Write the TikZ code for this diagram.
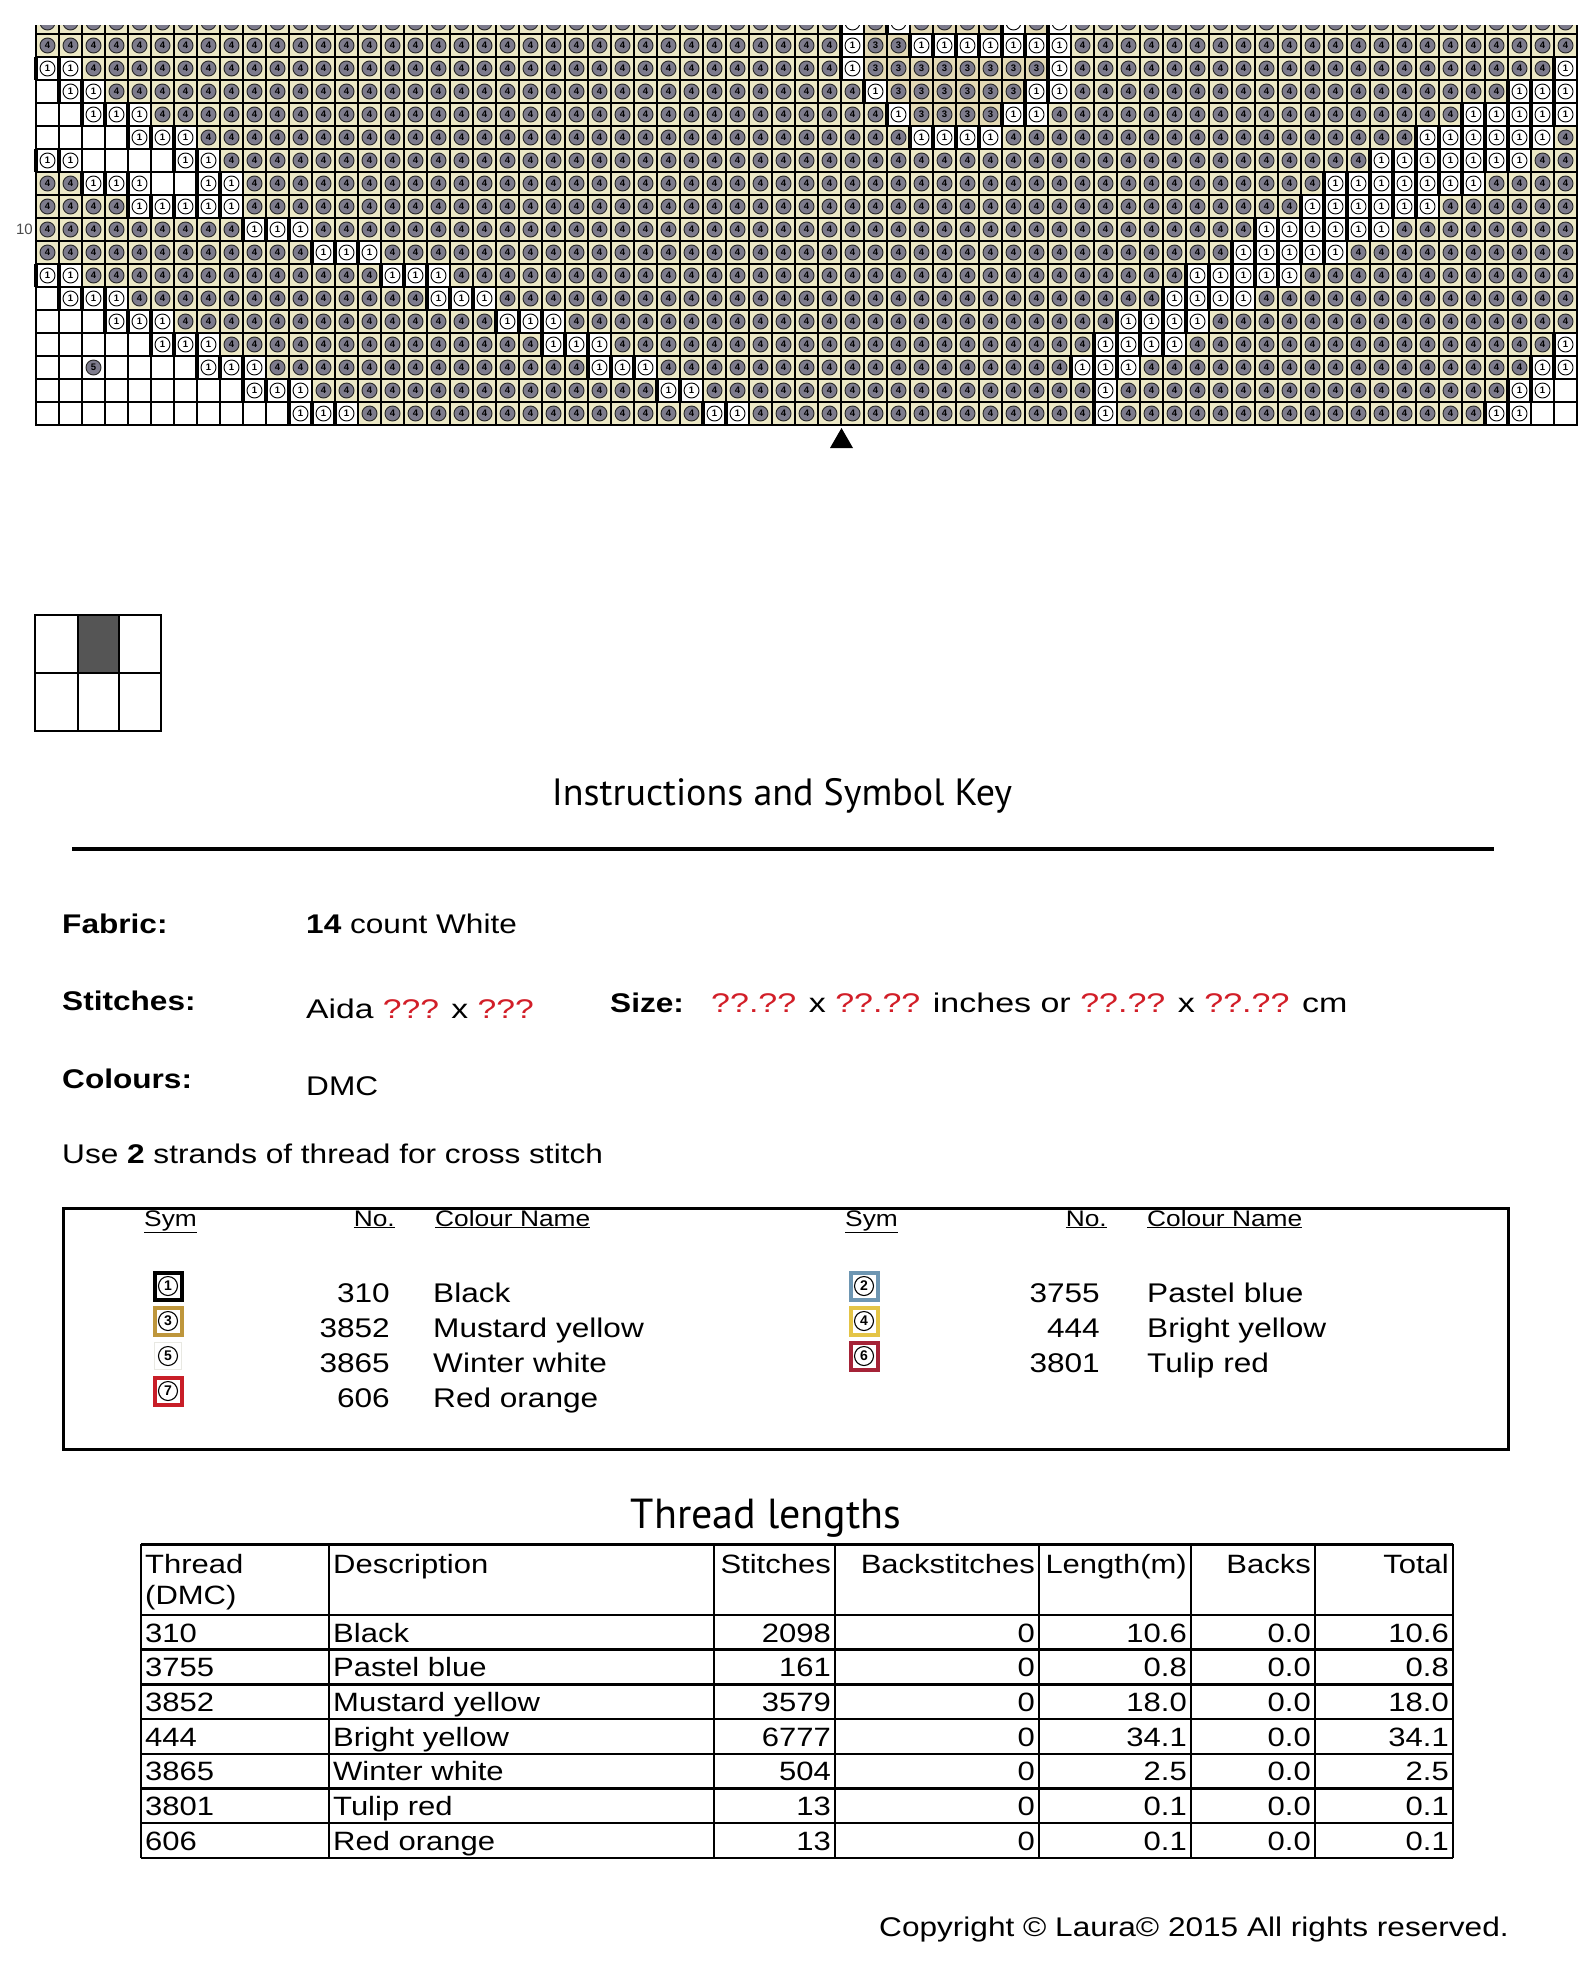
\documentclass[tikz,border=0pt]{standalone}
\usepackage{graphicx}
\usepackage{fontspec}
\setmainfont[FakeStretch=1.17]{Liberation Sans}
\newfontfamily\symfont{Liberation Sans}
\newfontfamily\titlefont{PT Sans}
\definecolor{bgfour}{RGB}{236,232,198}
\definecolor{bgthree}{RGB}{228,218,182}
\definecolor{symgray}{RGB}{125,123,140}
\definecolor{qred}{RGB}{210,30,40}
\definecolor{darkcell}{RGB}{85,85,85}
\definecolor{cblack}{RGB}{0,0,0}
\definecolor{cblue}{RGB}{110,150,178}
\definecolor{cmustard}{RGB}{190,150,60}
\definecolor{cyellow}{RGB}{228,196,70}
\definecolor{cwhite}{RGB}{232,232,226}
\definecolor{ctulip}{RGB}{165,35,55}
\definecolor{corange}{RGB}{200,30,40}
\newcount\cellcol
\newcount\cellrow
\def\gridrow#1#2{\global\cellrow=#1\relax\global\cellcol=0\relax\parsecell#2\relax}
\def\parsecell#1{\ifx#1\relax\let\cellnext\relax\else\global\advance\cellcol by 1\relax\def\curtype{#1}\let\cellnext\docell\fi\cellnext}
\def\docell{\csname cellkind\curtype\endcsname\parsecell}
\expandafter\def\csname cellkind4\endcsname{%
  \fill[bgfour] ({13+23*\the\cellcol},{-12+23*\the\cellrow}) rectangle +(23,23);
  \node[symdark] (c\the\cellrow-\the\cellcol) at ({24.5+23*\the\cellcol},{-0.5+23*\the\cellrow}) {4};}
\expandafter\def\csname cellkind3\endcsname{%
  \fill[bgthree] ({13+23*\the\cellcol},{-12+23*\the\cellrow}) rectangle +(23,23);
  \node[symdark] (c\the\cellrow-\the\cellcol) at ({24.5+23*\the\cellcol},{-0.5+23*\the\cellrow}) {3};}
\expandafter\def\csname cellkind1\endcsname{%
  \node[symlight] (c\the\cellrow-\the\cellcol) at ({24.5+23*\the\cellcol},{-0.5+23*\the\cellrow}) {1};
  \draw[line width=3.5pt] ({13+23*\the\cellcol},{-12+23*\the\cellrow}) -- +(0,23);}
\expandafter\def\csname cellkind5\endcsname{%
  \node[symdark] (c\the\cellrow-\the\cellcol) at ({24.5+23*\the\cellcol},{-0.5+23*\the\cellrow}) {5};}
\expandafter\def\csname cellkind0\endcsname{}
\tikzset{
  gridline/.style={line width=2.3pt, black},
  symdark/.style={circle, fill=symgray, draw=black!85, line width=0.9pt, minimum size=15pt, inner sep=0pt, font=\symfont\bfseries\fontsize{9.5}{9.5}\selectfont},
  symlight/.style={symdark, fill=white, draw=black},
  txt/.style={anchor=base west, inner sep=0pt, font=\fontsize{27}{32}\selectfont},
  txtb/.style={txt, font=\fontsize{27}{32}\selectfont\bfseries},
  hdr/.style={anchor=base west, inner sep=0pt, font=\fontsize{22.5}{26}\selectfont},
  hdre/.style={hdr, anchor=base east},
  tcell/.style={anchor=base west, inner sep=0pt, font=\fontsize{26.5}{30}\selectfont},
  tcelle/.style={tcell, anchor=base east},
  legbox/.style={draw, line width=4pt, minimum size=27pt, inner sep=0pt, fill=white},
  legnum/.style={circle, draw=black, line width=1.1pt, minimum size=19pt, inner sep=0pt, fill=white, font=\symfont\bfseries\fontsize{14}{14}\selectfont},
  tline/.style={line width=2.5pt, black},
}
\begin{document}
\begin{tikzpicture}[x=1pt,y=-1pt]
\useasboundingbox (0,0) rectangle (1588,1968);
\fill[white] (0,0) rectangle (1588,1968);
% ---------- chart ----------
\begin{scope}
\clip (0,25) rectangle (1588,440);
\gridrow{1}{4444444444 4444444444 4444444444 4444413133 3313144444 4444444444 4444444}
\gridrow{2}{4444444444 4444444444 4444444444 4444413311 1111144444 4444444444 4444444}
\gridrow{3}{1144444444 4444444444 4444444444 4444413333 3333144444 4444444444 4444441}
\gridrow{4}{0114444444 4444444444 4444444444 4444441333 3331144444 4444444444 4444111}
\gridrow{5}{0011144444 4444444444 4444444444 4444444133 3311444444 4444444444 4411111}
\gridrow{6}{0000111444 4444444444 4444444444 4444444411 1144444444 4444444444 1111114}
\gridrow{7}{1100001144 4444444444 4444444444 4444444444 4444444444 4444444411 1111144}
\gridrow{8}{4411100114 4444444444 4444444444 4444444444 4444444444 4444441111 1114444}
\gridrow{9}{4444111114 4444444444 4444444444 4444444444 4444444444 4444411111 1444444}
\gridrow{10}{4444444441 1144444444 4444444444 4444444444 4444444444 4441111114 4444444}
\gridrow{11}{4444444444 4411144444 4444444444 4444444444 4444444444 4411111444 4444444}
\gridrow{12}{1144444444 4444411144 4444444444 4444444444 4444444444 1111144444 4444444}
\gridrow{13}{0111444444 4444444111 4444444444 4444444444 4444444441 1114444444 4444444}
\gridrow{14}{0001114444 4444444444 1114444444 4444444444 4444444111 1444444444 4444444}
\gridrow{15}{0000011144 4444444444 4411144444 4444444444 4444441111 4444444444 4444441}
\gridrow{16}{0050000111 4444444444 4444111444 4444444444 4444411144 4444444444 4444411}
\gridrow{17}{0000000001 1144444444 4444444114 4444444444 4444441444 4444444444 4444110}
\gridrow{18}{0000000000 0111444444 4444444441 1444444444 4444441444 4444444444 4441100}
\foreach \k in {0,...,67} \draw[gridline] ({36+23*\k},11) -- ({36+23*\k},425);
\foreach \k in {0,...,18} \draw[gridline] (35,{11+23*\k}) -- (1578,{11+23*\k});
\end{scope}
\node[anchor=east, inner sep=0pt, font=\symfont\fontsize{15}{15}\selectfont, text=black!70] (rowlabel) at (33,229) {10};
\fill (830,448) -- (853,448) -- (841.5,428) -- cycle;
% ---------- small grid ----------
\fill[darkcell] (78,615) rectangle (119,673);
\draw[gridline] (35,615) rectangle (161,731);
\draw[gridline] (78,615) -- (78,731) (119,615) -- (119,731) (35,673) -- (161,673);
% ---------- instructions ----------
\node[anchor=base, inner sep=0pt, font=\titlefont\fontsize{38}{44}\selectfont] (title1) at (782,805) {Instructions and Symbol Key};
\draw[line width=3.5pt] (72,849) -- (1494,849);
\node[txtb] (fabl) at (62,933) {Fabric:};
\node[txt] (fabv) at (306,933) {\textbf{14} count White};
\node[txtb] (stl) at (62,1010) {Stitches:};
\node[txt] (stv) at (306,1018) {\scalebox{1.065}[1]{Aida \textcolor{qred}{???} x \textcolor{qred}{???}}};
\node[txtb] (szl) at (610,1012) {Size:};
\node[txt] (szv) at (711,1012) {\scalebox{1.076}[1]{\textcolor{qred}{??.??} x \textcolor{qred}{??.??} inches or \textcolor{qred}{??.??} x \textcolor{qred}{??.??} cm}};
\node[txtb] (coll) at (62,1088) {Colours:};
\node[txt] (colv) at (306,1095) {DMC};
\node[txt] (strands) at (62,1163) {Use \textbf{2} strands of thread for cross stitch};
% ---------- legend ----------
\draw[line width=3pt] (63,1208) rectangle (1508,1449);
\node[hdr] (hs1) at (144,1226) {\underline{Sym}};
\node[hdre] (hn1) at (395,1226) {\underline{No.}};
\node[hdr] (hc1) at (435,1226) {\underline{Colour Name}};
\node[hdr] (hs2) at (845,1226) {\underline{Sym}};
\node[hdre] (hn2) at (1107,1226) {\underline{No.}};
\node[hdr] (hc2) at (1147,1226) {\underline{Colour Name}};
% column 1
\node[legbox, draw=cblack] (k1) at (168,1286) {};
\node[legnum] (k1n) at (k1) {1};
\node[txt, anchor=base east] (k1no) at (390,1302) {310};
\node[txt] (k1na) at (433,1302) {Black};
\node[legbox, draw=cmustard] (k3) at (168,1321) {};
\node[legnum] (k3n) at (k3) {3};
\node[txt, anchor=base east] (k3no) at (390,1337) {3852};
\node[txt] (k3na) at (433,1337) {Mustard yellow};
\node[legbox, draw=cwhite, line width=1pt] (k5) at (168,1356) {};
\node[legnum] (k5n) at (k5) {5};
\node[txt, anchor=base east] (k5no) at (390,1372) {3865};
\node[txt] (k5na) at (433,1372) {Winter white};
\node[legbox, draw=corange] (k7) at (168,1391) {};
\node[legnum] (k7n) at (k7) {7};
\node[txt, anchor=base east] (k7no) at (390,1407) {606};
\node[txt] (k7na) at (433,1407) {Red orange};
% column 2
\node[legbox, draw=cblue] (k2) at (864,1286) {};
\node[legnum] (k2n) at (k2) {2};
\node[txt, anchor=base east] (k2no) at (1100,1302) {3755};
\node[txt] (k2na) at (1147,1302) {Pastel blue};
\node[legbox, draw=cyellow] (k4) at (864,1321) {};
\node[legnum] (k4n) at (k4) {4};
\node[txt, anchor=base east] (k4no) at (1100,1337) {444};
\node[txt] (k4na) at (1147,1337) {Bright yellow};
\node[legbox, draw=ctulip] (k6) at (864,1356) {};
\node[legnum] (k6n) at (k6) {6};
\node[txt, anchor=base east] (k6no) at (1100,1372) {3801};
\node[txt] (k6na) at (1147,1372) {Tulip red};
% ---------- thread lengths ----------
\node[anchor=base, inner sep=0pt, font=\titlefont\fontsize{42}{48}\selectfont] (title2) at (766,1528) {Thread lengths};
\draw[line width=3pt] (141,1544) -- (1453,1544);
\foreach \i in {0,...,7} \draw[tline] (141,{1615+34.7*\i}) -- (1453,{1615+34.7*\i});
\foreach \xx in {141,329,714,835,1039,1191,1315,1453} \draw[line width=2pt] (\xx,1544) -- (\xx,1858);
\node[tcell] (hth) at (145,1573) {Thread};
\node[tcell] (hdmc) at (145,1604) {(DMC)};
\node[tcell] (hde) at (333,1573) {Description};
\node[tcelle] (hst) at (831,1573) {Stitches};
\node[tcelle] (hbs) at (1035,1573) {Backstitches};
\node[tcelle] (hle) at (1187,1573) {Length(m)};
\node[tcelle] (hba) at (1311,1573) {Backs};
\node[tcelle] (hto) at (1449,1573) {Total};
\foreach \dmc/\dsc/\nst/\len [count=\i] in {310/Black/2098/10.6, 3755/Pastel blue/161/0.8, 3852/Mustard yellow/3579/18.0, 444/Bright yellow/6777/34.1, 3865/Winter white/504/2.5, 3801/Tulip red/13/0.1, 606/Red orange/13/0.1}{
  \pgfmathsetmacro\by{1607.3+34.7*\i}
  \node[tcell] (tth\i) at (145,\by) {\dmc};
  \node[tcell] (tde\i) at (333,\by) {\dsc};
  \node[tcelle] (tst\i) at (831,\by) {\nst};
  \node[tcelle] (tbs\i) at (1035,\by) {0};
  \node[tcelle] (tle\i) at (1187,\by) {\len};
  \node[tcelle] (tba\i) at (1311,\by) {0.0};
  \node[tcelle] (tto\i) at (1449,\by) {\len};
}
% ---------- copyright ----------
\node[txt] (copy) at (879,1936) {Copyright © Laura© 2015 All rights reserved.};
\end{tikzpicture}
\end{document}
